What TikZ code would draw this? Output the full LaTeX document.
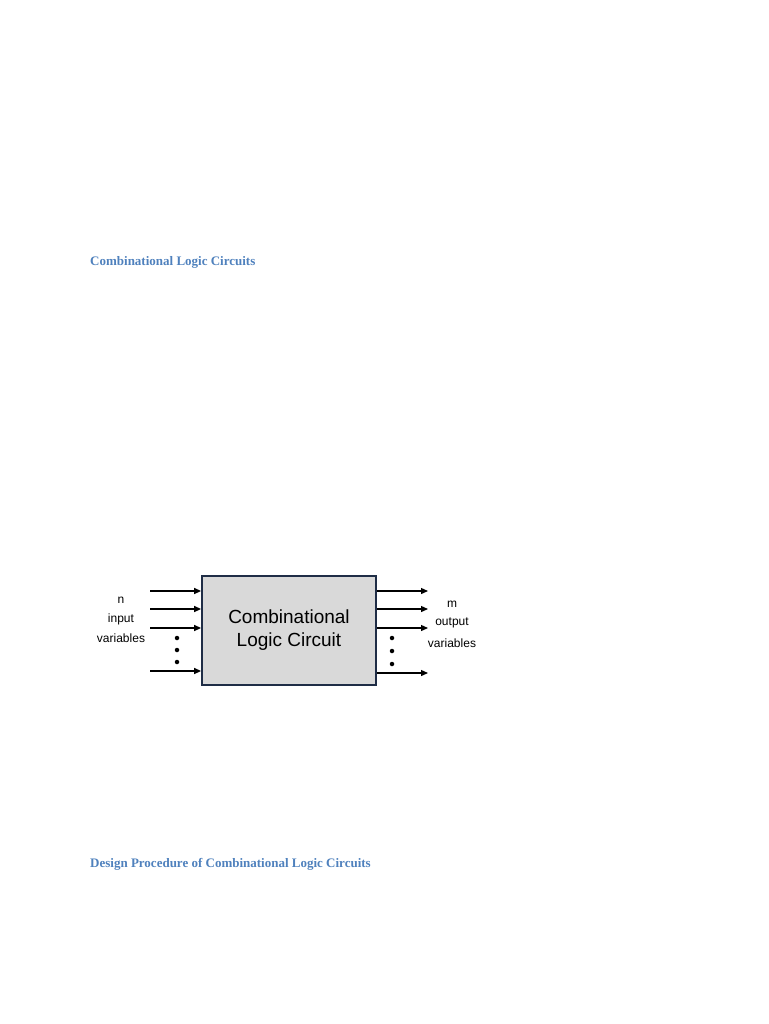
\documentclass[tikz,border=0pt]{standalone}
\usepackage{fontspec}
\setmainfont{Liberation Serif}
\newfontfamily\arial{Liberation Sans}
\usetikzlibrary{arrows.meta}
\definecolor{headblue}{RGB}{79,129,189}
\definecolor{boxgray}{RGB}{217,217,217}
\definecolor{boxedge}{RGB}{31,45,70}
\tikzset{
  head/.style={anchor=west,inner sep=0pt,text=headblue,font=\bfseries\fontsize{13}{15}\selectfont},
  sig/.style={-{Triangle[length=7pt,width=6pt]},line width=1.3pt},
  lbl/.style={inner sep=0pt,font=\arial\fontsize{12}{14}\selectfont},
  dotc/.style={circle,fill=black,inner sep=0pt,minimum size=4.5pt}
}
\begin{document}
\begin{tikzpicture}[x=1pt,y=-1pt]
\useasboundingbox (0,0) rectangle (768,1024);
\node[head] (h1) at (90,262) {Combinational Logic Circuits};
\node[head] (h2) at (90,864) {Design Procedure of Combinational Logic Circuits};
\node[draw=boxedge,fill=boxgray,line width=1.8pt,minimum width=174pt,minimum height=109pt,inner sep=0pt,align=center,font=\arial\fontsize{19}{23}\selectfont] (box) at (289,630.5) {Combinational\\Logic Circuit};
\foreach \y/\n in {591/a,609/b,628/c,671/d}{
  \coordinate (i\n) at (150,\y);
  \draw[sig] (i\n) -- (i\n -| box.west);
}
\foreach \y/\n in {591/a,609/b,628/c,673/d}{
  \coordinate (o\n) at (428,\y);
  \draw[sig] (o\n -| box.east) -- (o\n);
}
\foreach \y/\n in {638/a,650/b,662/c}{\node[dotc] (ld\n) at (177,\y) {};}
\foreach \y/\n in {638/a,651/b,664/c}{\node[dotc] (rd\n) at (392,\y) {};}
\node[lbl] (n) at (121,600) {n};
\node[lbl] (inp) at (121,619) {input};
\node[lbl] (iv) at (121,638) {variables};
\node[lbl] (m) at (452,604) {m};
\node[lbl] (out) at (452,623) {output};
\node[lbl] (ov) at (452,643) {variables};
\end{tikzpicture}
\end{document}
